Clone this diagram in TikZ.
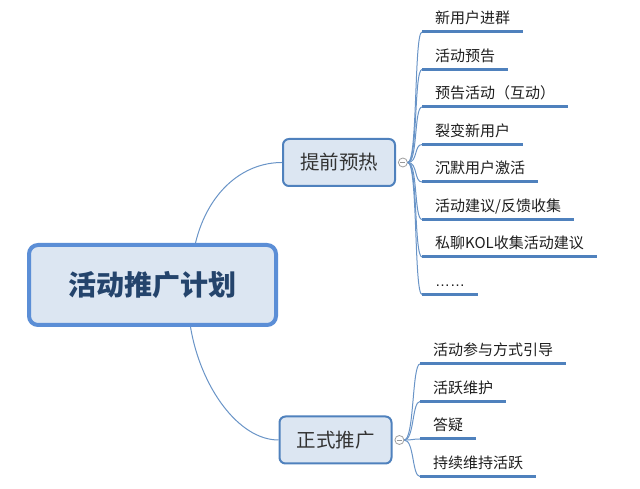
\documentclass[tikz,border=0pt]{standalone}
\usepackage{fontspec}
\setmainfont{Noto Sans CJK SC}
\newfontfamily\dotsfont{Liberation Sans}
\usepackage{xcolor}
\usepackage{tikz}
\usetikzlibrary{positioning}
\definecolor{mapblue}{HTML}{4F81BD}
\definecolor{rootline}{HTML}{5B8ED6}
\definecolor{boxfill}{HTML}{DCE6F2}
\definecolor{roottext}{HTML}{24446C}
\definecolor{leaftext}{HTML}{1E1E1E}
\tikzstyle{root}=[
draw=rootline,
line width=4pt,
rounded corners=9pt,
fill=boxfill,
minimum width=247pt,
minimum height=80pt,
text=roottext,
font=\fontsize{28pt}{31pt}\selectfont\bfseries
]
\tikzstyle{topic}=[
draw=mapblue,
line width=2pt,
rounded corners=6pt,
fill=boxfill,
minimum width=112pt,
minimum height=47pt,
text=black!80,
font=\fontsize{19.5pt}{22pt}\selectfont
]
\tikzstyle{toggle}=[
circle,
draw=gray!75,
fill=white,
line width=0.8pt,
minimum size=9pt,
inner sep=0pt,
path picture={\draw[gray!80, line width=0.7pt] ([xshift=-2.5pt]path picture bounding box.center) -- ([xshift=2.5pt]path picture bounding box.center);}
]
\tikzstyle{leaf}=[
anchor=south west,
inner xsep=13pt,
inner ysep=5pt,
text height=13pt,
text depth=3pt,
text=leaftext,
font=\fontsize{15pt}{18pt}\selectfont
]
\tikzstyle{branch}=[
draw=mapblue!85,
line width=1pt
]
\tikzstyle{uline}=[
draw=mapblue,
line width=3pt
]

\begin{document}
\begin{tikzpicture}[x=1pt, y=1pt, node distance=37.5pt]

\useasboundingbox (0,0) rectangle (640,489);

\node (root) [root] at (152.5,204) {活动推广计划};
\node (pre) [topic] at (339,326.5) {提前预热};
\node (formal) [topic] at (335.5,49) {正式推广};

\draw [branch] ([xshift=43pt]root.north) .. controls +(12,50) and +(-40,0) .. (pre.west);
\draw [branch] ([xshift=38pt]root.south) .. controls +(10,-60) and +(-40,0) .. (formal.west);

\node (a1) [leaf] at (422,457) {新用户进群};
\node (a2) [leaf, below=of a1.south west, anchor=south west] {活动预告};
\node (a3) [leaf, below=of a2.south west, anchor=south west] {预告活动（互动）};
\node (a4) [leaf, below=of a3.south west, anchor=south west] {裂变新用户};
\node (a5) [leaf, below=of a4.south west, anchor=south west] {沉默用户激活};
\node (a6) [leaf, below=of a5.south west, anchor=south west] {活动建议/反馈收集};
\node (a7) [leaf, below=of a6.south west, anchor=south west] {私聊KOL收集活动建议};
\node (a8) [leaf, below=of a7.south west, anchor=south west] {\dotsfont ……};

\node (b1) [leaf] at (420,125) {活动参与方式引导};
\node (b2) [leaf, below=of b1.south west, anchor=south west] {活跃维护};
\node (b3) [leaf, below=of b2.south west, anchor=south west] {答疑};
\node (b4) [leaf, below=of b3.south west, anchor=south west] {持续维持活跃};

\node (t1) [toggle, right=2pt of pre] {};
\node (t2) [toggle, right=2pt of formal] {};

\draw [branch] (t1.east) .. controls +(10,0) and +(-8,0) .. (a1.south west);
\draw [branch] (t1.east) .. controls +(10,0) and +(-8,0) .. (a2.south west);
\draw [branch] (t1.east) .. controls +(10,0) and +(-8,0) .. (a3.south west);
\draw [branch] (t1.east) .. controls +(10,0) and +(-8,0) .. (a4.south west);
\draw [branch] (t1.east) .. controls +(10,0) and +(-8,0) .. (a5.south west);
\draw [branch] (t1.east) .. controls +(10,0) and +(-8,0) .. (a6.south west);
\draw [branch] (t1.east) .. controls +(10,0) and +(-8,0) .. (a7.south west);
\draw [branch] (t1.east) .. controls +(10,0) and +(-8,0) .. (a8.south west);

\draw [branch] (t2.east) .. controls +(10,0) and +(-8,0) .. (b1.south west);
\draw [branch] (t2.east) .. controls +(10,0) and +(-8,0) .. (b2.south west);
\draw [branch] (t2.east) .. controls +(10,0) and +(-8,0) .. (b3.south west);
\draw [branch] (t2.east) .. controls +(10,0) and +(-8,0) .. (b4.south west);

\draw [uline] (a1.south west) -- (a1.south east);
\draw [uline] (a2.south west) -- (a2.south east);
\draw [uline] (a3.south west) -- (a3.south east);
\draw [uline] (a4.south west) -- (a4.south east);
\draw [uline] (a5.south west) -- (a5.south east);
\draw [uline] (a6.south west) -- (a6.south east);
\draw [uline] (a7.south west) -- (a7.south east);
\draw [uline] (a8.south west) -- (a8.south east);

\draw [uline] (b1.south west) -- (b1.south east);
\draw [uline] (b2.south west) -- (b2.south east);
\draw [uline] (b3.south west) -- (b3.south east);
\draw [uline] (b4.south west) -- (b4.south east);

\end{tikzpicture}
\end{document}
